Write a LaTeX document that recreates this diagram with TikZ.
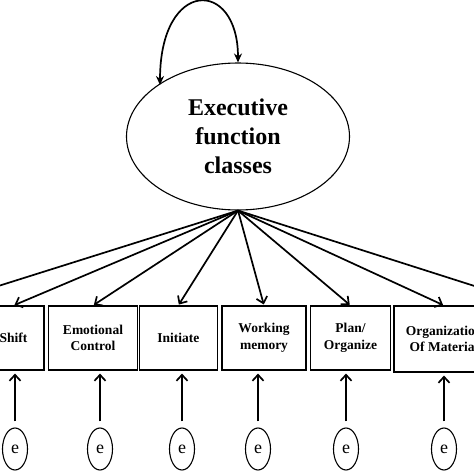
\documentclass[tikz,border=0pt]{standalone}
\usepackage{fontspec}
\setmainfont{Liberation Serif}
\usetikzlibrary{shapes.geometric,arrows.meta}
\tikzset{
  latent/.style={ellipse,draw,line width=1.1pt,inner sep=0pt,minimum width=223pt,minimum height=147pt,
    align=center,font=\fontsize{24}{29}\selectfont\bfseries},
  obsbox/.style={rectangle,draw,line width=1.1pt,inner sep=0pt,minimum height=64pt,
    align=center,font=\fontsize{13.5}{16.5}\selectfont\bfseries},
  errnode/.style={ellipse,draw,line width=1.1pt,inner sep=0pt,minimum width=25pt,minimum height=42pt,
    font=\fontsize{18}{20}\selectfont},
  fanarrow/.style={line width=1.7pt,-{Straight Barb[length=6pt,width=11pt,line width=1.7pt]},shorten >=1pt},
  errarrow/.style={line width=1.7pt,-{Straight Barb[length=6pt,width=11pt,line width=1.7pt]},shorten <=6pt,shorten >=3pt},
  looparrow/.style={line width=1.7pt,{Stealth[length=9pt,width=8pt]}-{Stealth[length=9pt,width=8pt]}}
}
\begin{document}
\begin{tikzpicture}[x=1pt,y=-1pt]
\useasboundingbox (0,0) rectangle (474,474);
\clip (0,0) rectangle (474,474);
\node[latent] (ef) at (238,136.5) {Executive\\function\\classes};
\coordinate (loopL) at (160,85);
\draw[looparrow] (loopL) .. controls (160,-22) and (238,-22) .. (ef.north);

\node[obsbox,minimum width=61pt] (shift) at (13.5,338) {Shift};
\node[obsbox,minimum width=88.6pt] (emo) at (93,338) {Emotional\\Control};
\node[obsbox,minimum width=78pt] (init) at (178.3,338) {Initiate};
\node[obsbox,minimum width=84pt] (wm) at (264,338) {Working\\memory};
\node[obsbox,minimum width=80pt] (plan) at (350.5,338) {Plan/\\Organize};
\node[obsbox,minimum width=100pt,minimum height=66pt] (org) at (444,339) {Organization\\Of Material};
\coordinate (offL) at (-62,305);
\coordinate (offR) at (534,305);

\foreach \b in {offL,shift,emo,init,wm,plan,org,offR}{
  \draw[fanarrow] (ef.south) -- (\b.north);
}

\foreach \b/\x in {shift/15,emo/100,init/182,wm/258,plan/346,org/444}{
  \node[errnode] (e\b) at (\x,449) {e};
  \draw[errarrow] (e\b.north) -- (e\b.north |- \b.south);
}
\end{tikzpicture}
\end{document}
